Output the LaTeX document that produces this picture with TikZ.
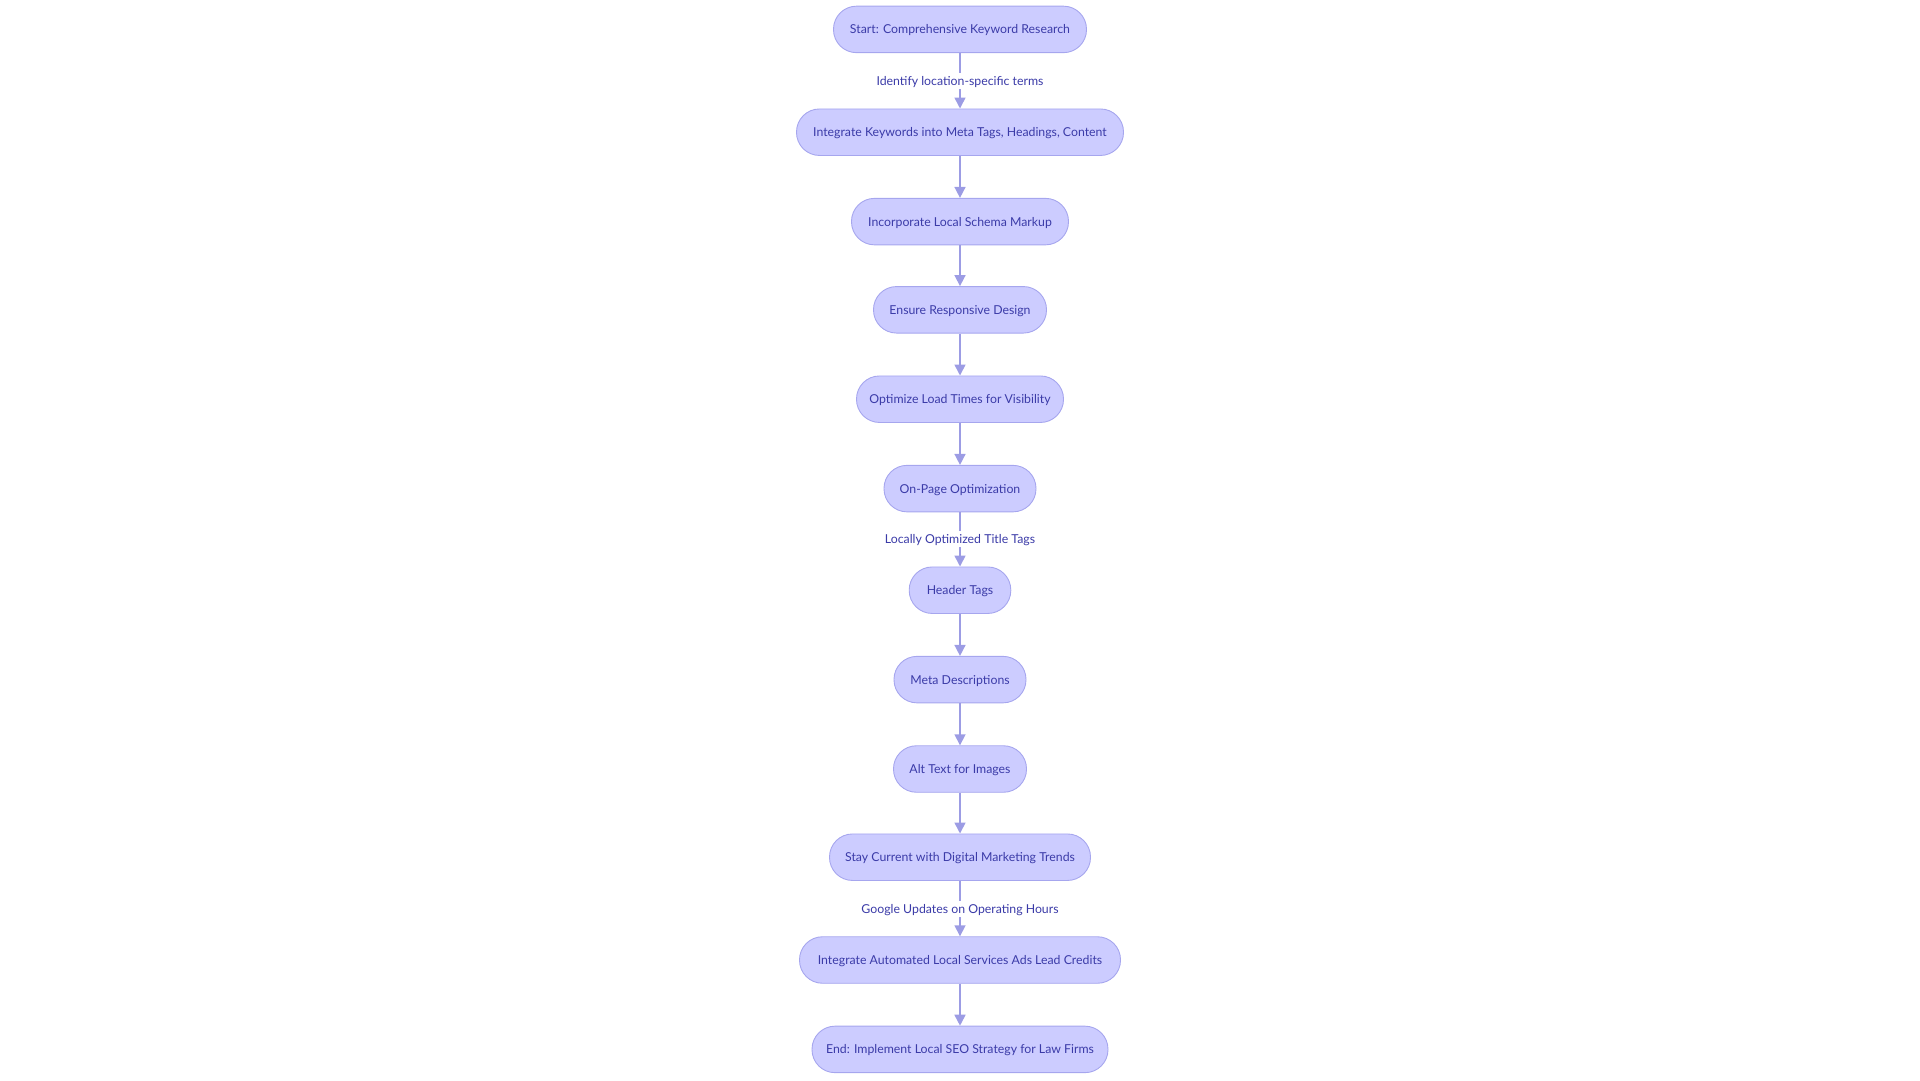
\documentclass[tikz,border=0pt]{standalone}
\usepackage{fontspec}
\setmainfont{Lato}
\usetikzlibrary{arrows.meta}
\definecolor{nodefill}{HTML}{CCCCFF}
\definecolor{nodeline}{HTML}{A6A6EE}
\definecolor{nodetext}{HTML}{3B3BA8}
\definecolor{edgecol}{HTML}{9C9CE4}
\tikzset{
  stepbox/.style={draw=nodeline, line width=0.9pt, fill=nodefill, text=nodetext,
    rounded corners=23pt, minimum height=46.5pt, inner xsep=4pt, text height=11pt, text depth=2pt,
    font=\fontsize{12.3}{14}\selectfont},
  flow/.style={draw=edgecol, line width=1.6pt, -{Triangle[width=11pt,length=11pt]}},
  elabel/.style={fill=white, text=nodetext, inner sep=1.5pt, text height=11pt, text depth=2pt,
    font=\fontsize{12.3}{14}\selectfont}
}
\begin{document}
\begin{tikzpicture}[x=1pt,y=-1pt]
\useasboundingbox (0,0) rectangle (1920,1080);
\node[stepbox, minimum width=253pt] (n1) at (960,29.4) {Start: Comprehensive Keyword Research};
\node[stepbox, minimum width=327pt] (n2) at (960,132.2) {Integrate Keywords into Meta Tags, Headings, Content};
\node[stepbox, minimum width=217pt] (n3) at (960,221.6) {Incorporate Local Schema Markup};
\node[stepbox, minimum width=173pt] (n4) at (960,309.8) {Ensure Responsive Design};
\node[stepbox, minimum width=207pt] (n5) at (960,399.2) {Optimize Load Times for Visibility};
\node[stepbox, minimum width=152pt] (n6) at (960,488.6) {On-Page Optimization};
\node[stepbox, minimum width=101.6pt] (n7) at (960,590.2) {Header Tags};
\node[stepbox, minimum width=132pt] (n8) at (960,679.6) {Meta Descriptions};
\node[stepbox, minimum width=133pt] (n9) at (960,769) {Alt Text for Images};
\node[stepbox, minimum width=261pt] (n10) at (960,857.2) {Stay Current with Digital Marketing Trends};
\node[stepbox, minimum width=321pt] (n11) at (960,960) {Integrate Automated Local Services Ads Lead Credits};
\node[stepbox, minimum width=296pt] (n12) at (960,1049.4) {End: Implement Local SEO Strategy for Law Firms};
\draw[flow] (n1) -- node[elabel] (l1) {Identify location-specific terms} (n2);
\draw[flow] (n2) -- (n3);
\draw[flow] (n3) -- (n4);
\draw[flow] (n4) -- (n5);
\draw[flow] (n5) -- (n6);
\draw[flow] (n6) -- node[elabel] (l2) {Locally Optimized Title Tags} (n7);
\draw[flow] (n7) -- (n8);
\draw[flow] (n8) -- (n9);
\draw[flow] (n9) -- (n10);
\draw[flow] (n10) -- node[elabel] (l3) {Google Updates on Operating Hours} (n11);
\draw[flow] (n11) -- (n12);
\end{tikzpicture}
\end{document}
